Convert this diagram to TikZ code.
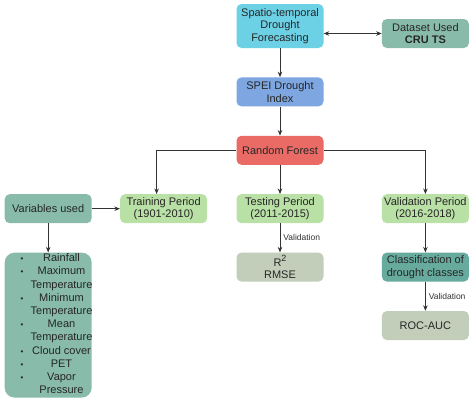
\documentclass[tikz,border=0pt]{standalone}
\usepackage{fontspec}
\setmainfont{Liberation Sans}
\usepackage{array}
\usetikzlibrary{positioning,arrows.meta}

\definecolor{forecastc}{HTML}{6DD1E6}
\definecolor{datac}{HTML}{88BBAA}
\definecolor{speic}{HTML}{7EA6E0}
\definecolor{forestc}{HTML}{EA6B66}
\definecolor{periodc}{HTML}{B9E0A5}
\definecolor{metricc}{HTML}{C2CEBA}
\definecolor{classc}{HTML}{67AB9F}

\begin{document}
\begin{tikzpicture}[x=1pt,y=1pt,node distance=29pt,
    >={Stealth[length=5.5pt,width=4.5pt]},
    box/.style={rectangle,rounded corners=5pt,minimum width=87pt,
      minimum height=29pt,inner sep=2pt,align=center,text=black!85,
      font=\fontsize{11}{12.5}\selectfont},
    link/.style={draw=black!80,line width=0.75pt},
    vlabel/.style={right,inner sep=3pt,text=black!80,
      font=\fontsize{8.5}{10}\selectfont}]
  \useasboundingbox[fill=white] (0,0) rectangle (474,-400);

  % main column
  \node[box,fill=forecastc,minimum height=44pt] (forecast) at (280,-26)
    {Spatio-temporal\\Drought\\Forecasting};
  \node[box,fill=datac,anchor=south west] (data)
    at ([xshift=58pt]forecast.south east) {Dataset Used\\\textbf{CRU TS}};
  \node[box,fill=speic,below=of forecast] (spei) {SPEI Drought\\Index};
  \node[box,fill=forestc,below=of spei] (forest) {Random Forest};

  % periods
  \node[box,fill=periodc,below=of forest] (test) {Testing Period\\(2011-2015)};
  \node[box,fill=periodc,left=of test] (train) {Training Period\\(1901-2010)};
  \node[box,fill=periodc,right=58pt of test] (valid)
    {Validation Period\\(2016-2018)};
  \node[box,fill=datac,left=28pt of train] (vars) {Variables used};

  % results
  \node[box,fill=metricc,below=of test] (metric)
    {R\raisebox{0.45em}{\fontsize{9}{9}\selectfont 2}\\RMSE};
  \node[box,fill=classc,below=of valid] (classes)
    {Classification of\\drought classes};
  \node[box,fill=metricc,below=of classes] (roc) {ROC-AUC};

  % list of variables
  \node[box,fill=datac,rounded corners=10pt,minimum height=145pt,
    below=of vars] (vlist) {};
  \node[anchor=west,inner sep=0pt,text=black!85,
    font=\fontsize{11}{13.2}\selectfont] (vitems) at ([xshift=16pt]vlist.west)
    {\begin{tabular}{@{}l@{}>{\centering\arraybackslash}p{76pt}@{}}
      {\fontsize{8}{8}\selectfont\textbullet} & Rainfall\\
      {\fontsize{8}{8}\selectfont\textbullet} & Maximum\\
      & Temperature\\
      {\fontsize{8}{8}\selectfont\textbullet} & Minimum\\
      & Temperature\\
      {\fontsize{8}{8}\selectfont\textbullet} & Mean\\
      & Temperature\\
      {\fontsize{8}{8}\selectfont\textbullet} & Cloud cover\\
      {\fontsize{8}{8}\selectfont\textbullet} & PET\\
      {\fontsize{8}{8}\selectfont\textbullet} & Vapor\\
      & Pressure
    \end{tabular}};

  % connectors
  \draw[link,<->] (data.west -| forecast.east) -- (data.west);
  \draw[link,->] (forecast) -- (spei);
  \draw[link,->] (spei) -- (forest);
  \draw[link,->] (forest.west) -| ([xshift=-7pt]train.north);
  \draw[link,->] (forest) -- (test);
  \draw[link,->] (forest.east) -| (valid.north);
  \draw[link,->] (vars) -- (train);
  \draw[link,->] (vars) -- (vlist);
  \draw[link,->] (test) -- node[vlabel] {Validation} (metric);
  \draw[link,->] (valid) -- (classes);
  \draw[link,->] (classes) -- node[vlabel] {Validation} (roc);
\end{tikzpicture}
\end{document}
